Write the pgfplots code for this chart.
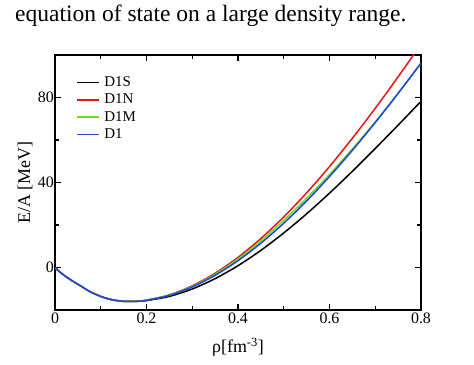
\documentclass[border=0pt]{standalone}
\usepackage{fontspec}
\setmainfont{Liberation Serif}
\usepackage{pgfplots}
\pgfplotsset{compat=1.18}
\definecolor{dred}{RGB}{230,20,20}
\definecolor{dgreen}{RGB}{110,220,20}
\definecolor{dblue}{RGB}{30,70,220}
\pgfplotscreateplotcyclelist{eos}{
  {black, line width=1.5bp, smooth},
  {dred, line width=1.5bp, smooth},
  {dgreen, line width=1.5bp, smooth},
  {dblue, line width=1.5bp, smooth}}
\begin{document}
\begin{tikzpicture}
\path (0bp,0bp) rectangle (474bp,365bp);
\node[anchor=base west, inner sep=0pt, font=\fontsize{23.6}{26}\selectfont] at (15bp,343bp) {equation of state on a large density range.};
\begin{axis}[
  at={(55bp,55bp)}, anchor=south west,
  scale only axis, width=366bp, height=255bp,
  xmin=0, xmax=0.8, ymin=-20, ymax=100,
  xtick={0,0.2,0.4,0.6,0.8},
  xticklabels={0,0.2,0.4,0.6,0.8},
  minor xtick={0.1,0.3,0.5,0.7},
  ytick={0,40,80},
  minor ytick={20,60},
  tick align=inside,
  major tick length=6bp, minor tick length=4bp,
  axis line style={line width=1.6bp},
  every tick/.style={line width=1.2bp, black},
  tick label style={font=\fontsize{16}{18}\selectfont},
  /pgf/number format/assume math mode=true,
  xticklabel style={inner sep=1bp, yshift=-2bp},
  yticklabel style={inner sep=1bp},
  xlabel={ρ[fm\textsuperscript{-3}]},
  ylabel={E/A [MeV]},
  label style={font=\fontsize{18}{20}\selectfont},
  xlabel style={at={(axis description cs:0.5,-0.145)}, anchor=center},
  ylabel style={at={(axis description cs:-0.082,0.5)}, anchor=center, rotate=0},
  legend style={at={(axis description cs:0,1)}, anchor=north west, xshift=21bp, yshift=-20bp,
    draw=none, fill=none, font=\fontsize{15}{17}\selectfont, row sep=3bp, column sep=3bp, inner sep=0pt,
    nodes={inner sep=1.5bp}},
  legend cell align=left,
  legend image post style={line width=1.6bp, xscale=1.3},
  cycle list name=eos,
  clip=true,
]
\addplot coordinates {
(0,0) (0.005,-1.1) (0.01,-2.0) (0.02,-3.7) (0.03,-5.2) (0.04,-6.6) (0.05,-7.9) (0.06,-9.2)
(0.075,-11.2) (0.09,-12.7) (0.10,-13.6) (0.11,-14.35) (0.125,-15.2) (0.14,-15.7) (0.15,-15.9)
(0.165,-16.0) (0.18,-15.9) (0.20,-15.58) (0.25,-13.6) (0.30,-10.1) (0.35,-5.24) (0.40,0.86)
(0.45,8.07) (0.50,16.25) (0.55,25.26) (0.60,34.99) (0.65,45.27) (0.70,56.0) (0.75,67.0) (0.80,78.2)};
\addplot coordinates {
(0,0) (0.005,-1.1) (0.01,-2.0) (0.02,-3.7) (0.03,-5.2) (0.04,-6.6) (0.05,-7.9) (0.06,-9.2)
(0.075,-11.2) (0.09,-12.7) (0.10,-13.6) (0.11,-14.35) (0.125,-15.2) (0.14,-15.7) (0.15,-15.9)
(0.165,-16.0) (0.18,-15.85) (0.20,-15.37) (0.25,-12.89) (0.30,-8.61) (0.35,-2.70) (0.40,4.76)
(0.45,13.63) (0.50,23.79) (0.55,35.12) (0.60,47.5) (0.65,60.81) (0.70,74.93) (0.75,89.73) (0.80,105.08)};
\addplot coordinates {
(0,0) (0.005,-1.1) (0.01,-2.0) (0.02,-3.7) (0.03,-5.2) (0.04,-6.6) (0.05,-7.9) (0.06,-9.2)
(0.075,-11.2) (0.09,-12.7) (0.10,-13.6) (0.11,-14.35) (0.125,-15.2) (0.14,-15.7) (0.15,-15.9)
(0.165,-16.0) (0.18,-15.87) (0.20,-15.39) (0.25,-13.0) (0.30,-8.9) (0.35,-3.2) (0.40,4.0)
(0.45,12.5) (0.50,22.2) (0.55,32.6) (0.60,43.8) (0.65,55.8) (0.70,68.5) (0.75,82.0) (0.80,96.1)};
\addplot coordinates {
(0,0) (0.005,-1.1) (0.01,-2.0) (0.02,-3.7) (0.03,-5.2) (0.04,-6.6) (0.05,-7.9) (0.06,-9.2)
(0.075,-11.2) (0.09,-12.7) (0.10,-13.6) (0.11,-14.35) (0.125,-15.2) (0.14,-15.7) (0.15,-15.9)
(0.165,-16.0) (0.18,-15.88) (0.20,-15.41) (0.25,-13.12) (0.30,-9.16) (0.35,-3.68) (0.40,3.22)
(0.45,11.44) (0.50,20.86) (0.55,31.35) (0.60,42.82) (0.65,55.15) (0.70,68.23) (0.75,81.95) (0.80,96.2)};
\legend{D1S,D1N,D1M,D1}
\end{axis}
\end{tikzpicture}
\end{document}
